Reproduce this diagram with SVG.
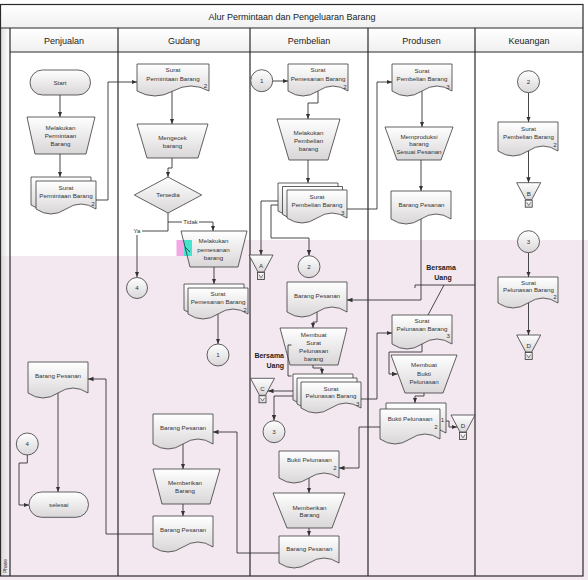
<svg xmlns="http://www.w3.org/2000/svg" width="588" height="580" viewBox="0 0 588 580">
<defs>
<linearGradient id="g" x1="0" y1="0" x2="0" y2="1"><stop offset="0" stop-color="#ffffff"/><stop offset="1" stop-color="#d9d6d8"/></linearGradient>
<linearGradient id="hd" x1="0" y1="0" x2="0" y2="1"><stop offset="0" stop-color="#ffffff"/><stop offset="1" stop-color="#f0f0f0"/></linearGradient>
<linearGradient id="ph" x1="0" y1="0" x2="1" y2="0"><stop offset="0" stop-color="#d0d0d0" stop-opacity="0.8"/><stop offset="1" stop-color="#f6f6f6" stop-opacity="0.3"/></linearGradient>
<marker id="ar" viewBox="0 0 10 10" refX="10" refY="5" markerWidth="5.5" markerHeight="5.5" markerUnits="userSpaceOnUse" orient="auto"><path d="M0,1 L10,5 L0,9 Z" fill="#333"/></marker>
<style>
.ln{fill:none;stroke:#2a2a2a;stroke-width:1.2}
.sh{fill:url(#g);stroke:#3a3a3a;stroke-width:0.8}
.cn{fill:none;stroke:#333;stroke-width:0.9;marker-end:url(#ar)}
.pl{fill:none;stroke:#333;stroke-width:0.9}
text{font-family:"Liberation Sans",Arial,sans-serif;fill:#333;text-anchor:middle}
.t{font-size:6.2px}
.h{font-size:9px;fill:#222}
.b{font-size:7px;font-weight:bold;fill:#222}
.ck{fill:none;stroke:#333;stroke-width:0.6}
</style>
</defs>
<rect x="0" y="0" width="588" height="580" fill="#ffffff"/>
<g id="background">
<rect x="0" y="256" width="588" height="324" fill="#f4e8f0"/>
<rect x="177" y="240" width="411" height="16" fill="#f4e8f0"/>
<rect x="0.5" y="4.5" width="582.5" height="23.5" fill="url(#hd)"/>
<rect x="10" y="28" width="573" height="24" fill="url(#hd)"/>
<rect x="0.5" y="28" width="9.5" height="548" fill="url(#ph)"/>
</g>
<g id="lanes">
<rect class="ln" x="0.5" y="4.5" width="582.5" height="571.5"/>
<path class="ln" d="M0.5,28 H583 M10,28 V576 M10,52 H583 M118,28 V576 M250,28 V576 M368,28 V576 M475,28 V576"/>
<text class="h" x="292" y="19.7">Alur Permintaan dan Pengeluaran Barang</text>
<text class="h" x="64" y="43.7">Penjualan</text>
<text class="h" x="184" y="43.7">Gudang</text>
<text class="h" x="309" y="43.7">Pembelian</text>
<text class="h" x="421.5" y="43.7">Produsen</text>
<text class="h" x="529" y="43.7">Keuangan</text>
<text x="7" y="566" font-size="5px" fill="#444" transform="rotate(-90 7 566)">Phase</text>
</g>
<g id="connectors">
<path class="cn" d="M60,95 V117"/>
<path class="cn" d="M60,154 V177"/>
<path class="cn" d="M96,200 H108 V82 H137"/>
<path class="cn" d="M172,91 V124"/>
<path class="cn" d="M172,158 V168 H168 V177"/>
<path class="cn" d="M168,213 V222 H213 V231"/>
<path class="cn" d="M168,222 V231 H137 V277"/>
<path class="cn" d="M214,267 V284"/>
<path class="cn" d="M218,314 V344"/>
<path class="cn" d="M272.7,81 H288"/>
<path class="cn" d="M318,91 V103 H308 V119"/>
<path class="cn" d="M308,160 V183"/>
<path class="cn" d="M347,209 H377 V82 H392"/>
<path class="cn" d="M278,201 H261 V255"/>
<path class="cn" d="M282.5,205 H271 V238 H309 V255.5"/>
<path class="cn" d="M422,91 V127"/>
<path class="cn" d="M421,160 V191"/>
<path class="cn" d="M421,219 V300 H347"/>
<path class="cn" d="M528.5,92.7 V122"/>
<path class="cn" d="M528.5,151 V182.7"/>
<path class="cn" d="M528.5,252.7 V277"/>
<path class="cn" d="M528.5,303 V335"/>
<path class="cn" d="M317,312 V322 H313 V328"/>
<path class="cn" d="M313,365 V368 H322 V374"/>
<path class="cn" d="M361,399 H377 V333 H392"/>
<path class="cn" d="M293,391 H268"/>
<path class="cn" d="M293,396 H274 V420.5"/>
<path class="cn" d="M422,344 V352 H389 V374 H397.5"/>
<path class="cn" d="M424,393 V396 H415 V403"/>
<path class="cn" d="M446,421 H449 V427 H457"/>
<path class="cn" d="M380,427 H359 V468 H339"/>
<path class="cn" d="M309,478 V493"/>
<path class="cn" d="M309,528 V536"/>
<path class="cn" d="M279,553 H237 V432 H213"/>
<path class="cn" d="M183,444 V469"/>
<path class="cn" d="M183,504 V516"/>
<path class="cn" d="M153,534 H106 V379 H88"/>
<path class="cn" d="M58,393 V492"/>
<path class="cn" d="M27.3,455 V463 H19 V505 H29"/>
<rect x="182" y="218" width="17" height="8" fill="#ffffff"/>
<text x="190.5" y="224" font-size="6px">Tidak</text>
<rect x="132" y="227" width="10" height="8" fill="#ffffff"/>
<text x="137" y="233.2" font-size="6px">Ya</text>
</g>
<g id="n-start"><rect class="sh" x="30" y="70" width="60.5" height="25" rx="12.5"/><text class="t" x="60" y="84.7">Start</text></g>
<g id="n-melakukan-permintaan"><path class="sh" d="M27,117 H95 L86,154 H35 Z"/><text class="t" x="60.5" y="130">Melakukan</text><text class="t" x="60.5" y="138">Permintaan</text><text class="t" x="60.5" y="146.2">Barang</text></g>
<g id="n-surat-permintaan-penjualan"><path class="sh" d="M31,177 H91 V205 Q76,195 61,205 T31,205 Z"/><path class="sh" d="M36,181 H96 V209 Q81,199 66,209 T36,209 Z"/><text class="t" x="66" y="189.5">Surat</text><text class="t" x="66" y="198.2">Permintaan Barang</text><text class="t" x="93" y="206.2">2</text></g>
<g id="n-barang-pesanan-penjualan"><path class="sh" d="M28,362 H88 V393 Q73,383 58,393 T28,393 Z"/><text class="t" x="58" y="378.2">Barang Pesanan</text></g>
<g id="n-c4-penjualan"><circle class="sh" cx="27.3" cy="444" r="11"/><text class="t" x="27.3" y="446.2">4</text></g>
<g id="n-selesai"><rect class="sh" x="29" y="492" width="59.5" height="25.3" rx="12.6"/><text class="t" x="58.7" y="507.2">selesai</text></g>
<g id="n-surat-permintaan-gudang"><path class="sh" d="M137,64 H209 V91 Q191,81 173,91 T137,91 Z"/><text class="t" x="173" y="72.2">Surat</text><text class="t" x="173" y="80.9">Permintaan Barang</text><text class="t" x="205.5" y="88.2">2</text></g>
<g id="n-mengecek"><path class="sh" d="M137,124 H208 L198,158 H147 Z"/><text class="t" x="172.5" y="139.9">Mengecek</text><text class="t" x="172.5" y="148.2">barang</text></g>
<g id="n-tersedia"><path class="sh" d="M168,177 L201.7,195 L168,213 L134.3,195 Z"/><text class="t" x="168" y="197.2">Tersedia</text></g>
<g id="n-c4-gudang"><circle class="sh" cx="137" cy="288" r="10.5"/><text class="t" x="137" y="290.2">4</text></g>
<g id="n-melakukan-pemesanan"><path class="sh" d="M181,231 H247 L238,267 H190 Z"/><text class="t" x="213.5" y="242.9">Melakukan</text><text class="t" x="213.5" y="251.5">pemesanan</text><text class="t" x="213.5" y="259.5">barang</text></g>
<g id="n-surat-pemesanan-gudang"><path class="sh" d="M184,284 H244 V310 Q229,300 214,310 T184,310 Z"/><path class="sh" d="M188,288 H248 V314 Q233,304 218,314 T188,314 Z"/><text class="t" x="218" y="296.2">Surat</text><text class="t" x="218" y="303.9">Pemesanan Barang</text><text class="t" x="245" y="312.2">2</text></g>
<g id="n-c1-gudang"><circle class="sh" cx="218" cy="355" r="11"/><text class="t" x="218" y="357.2">1</text></g>
<g id="n-barang-pesanan-gudang1"><path class="sh" d="M153,414 H213 V444 Q198,434 183,444 T153,444 Z"/><text class="t" x="183" y="429.9">Barang Pesanan</text></g>
<g id="n-memberikan-gudang"><path class="sh" d="M153,469 H220 L210,504 H162 Z"/><text class="t" x="185" y="484.9">Memberikan</text><text class="t" x="185" y="493.2">Barang</text></g>
<g id="n-barang-pesanan-gudang2"><path class="sh" d="M153,516 H213 V547 Q198,537 183,547 T153,547 Z"/><text class="t" x="183" y="532.2">Barang Pesanan</text></g>
<g id="n-c1-pembelian"><circle class="sh" cx="261.7" cy="80.7" r="11"/><text class="t" x="261.7" y="82.9">1</text></g>
<g id="n-surat-pemesanan-pembelian"><path class="sh" d="M288,64 H348 V91 Q333,81 318,91 T288,91 Z"/><text class="t" x="318" y="72.2">Surat</text><text class="t" x="318" y="81.2">Pemesanan Barang</text><text class="t" x="345" y="89.2">2</text></g>
<g id="n-melakukan-pembelian"><path class="sh" d="M277,119 H340 L328,160 H289 Z"/><text class="t" x="308.5" y="135.2">Melakukan</text><text class="t" x="308.5" y="142.9">Pembelian</text><text class="t" x="308.5" y="150.5">barang</text></g>
<g id="n-surat-pembelian-pembelian"><path class="sh" d="M278,183 H338 V211 Q323,201 308,211 T278,211 Z"/><path class="sh" d="M282.5,186.5 H342.5 V214.5 Q327.5,204.5 312.5,214.5 T282.5,214.5 Z"/><path class="sh" d="M287,190 H347 V218 Q332,208 317,218 T287,218 Z"/><text class="t" x="317" y="198.9">Surat</text><text class="t" x="317" y="207.2">Pembelian Barang</text><text class="t" x="342.7" y="214.5">3</text></g>
<g id="n-offpage-a"><path class="sh" d="M249,255 H273 L264,272 H258 Z"/><rect class="sh" x="257.5" y="272.5" width="7" height="7"/><path class="ck" d="M258.8,274.5 L261,277.8 L263.2,274.5"/><text class="t" x="261" y="267.5">A</text></g>
<g id="n-c2-pembelian"><circle class="sh" cx="309" cy="266.7" r="11"/><text class="t" x="309" y="268.9">2</text></g>
<g id="n-barang-pesanan-pembelian1"><path class="sh" d="M287,282 H347 V312 Q332,302 317,312 T287,312 Z"/><text class="t" x="317" y="297.9">Barang Pesanan</text></g>
<g id="n-membuat-surat"><path class="sh" d="M280,328 H347 L338,365 H290 Z"/><text class="t" x="313.7" y="336.5">Membuat</text><text class="t" x="313.7" y="344.5">Surat</text><text class="t" x="313.7" y="352.9">Pelunasan</text><text class="t" x="313.7" y="361.2">barang</text></g>
<g id="n-note-left"><path class="pl" d="M291.5,345 H288 V376 H291.5"/><text class="b" x="284" y="357.5" text-anchor="end" style="text-anchor:end">Bersama</text><text class="b" x="284" y="367.5" style="text-anchor:end">Uang</text></g>
<g id="n-surat-pelunasan-pembelian"><path class="sh" d="M293,374 H353 V400 Q338,390 323,400 T293,400 Z"/><path class="sh" d="M297,378 H357 V404 Q342,394 327,404 T297,404 Z"/><path class="sh" d="M301,382 H361 V408 Q346,398 331,408 T301,408 Z"/><text class="t" x="331" y="390.5">Surat</text><text class="t" x="331" y="398.2">Pelunasan Barang</text><text class="t" x="357.7" y="405.5">3</text></g>
<g id="n-offpage-c"><path class="sh" d="M250.5,378.3 H274.5 L265.5,395.3 H259.5 Z"/><rect class="sh" x="259" y="395.8" width="7" height="7"/><path class="ck" d="M260.3,397.8 L262.5,401.1 L264.7,397.8"/><text class="t" x="262.5" y="391">C</text></g>
<g id="n-c3-pembelian"><circle class="sh" cx="274" cy="431.7" r="11"/><text class="t" x="274" y="433.9">3</text></g>
<g id="n-bukti-pembelian"><path class="sh" d="M279,451 H339 V478 Q324,468 309,478 T279,478 Z"/><text class="t" x="309.3" y="462.2">Bukti Pelunasan</text><text class="t" x="335" y="469.9">2</text></g>
<g id="n-memberikan-pembelian"><path class="sh" d="M273,493 H345 L332,528 H287 Z"/><text class="t" x="309.5" y="509.5">Memberikan</text><text class="t" x="309.5" y="517.2">Barang</text></g>
<g id="n-barang-pesanan-pembelian2"><path class="sh" d="M279,536 H339 V563 Q324,553 309,563 T279,563 Z"/><text class="t" x="309.3" y="550.5">Barang Pesanan</text></g>
<g id="n-surat-pembelian-produsen"><path class="sh" d="M392,64 H452 V91 Q437,81 422,91 T392,91 Z"/><text class="t" x="422" y="72.9">Surat</text><text class="t" x="422" y="81.2">Pembelian Barang</text><text class="t" x="448" y="89.2">3</text></g>
<g id="n-memproduksi"><path class="sh" d="M385,127 H453 L441,160 H397 Z"/><text class="t" x="419" y="138.9">Memproduksi</text><text class="t" x="419" y="146.2">barang</text><text class="t" x="419" y="153.9">Sesuai Pesanan</text></g>
<g id="n-barang-pesanan-produsen"><path class="sh" d="M391,191 H451 V219 Q436,209 421,219 T391,219 Z"/><text class="t" x="421.5" y="206.5">Barang Pesanan</text></g>
<g id="n-note-right"><path class="pl" d="M415,288 V285 H475 M444,285 L428,315"/><text class="b" x="441" y="270">Bersama</text><text class="b" x="443" y="280">Uang</text></g>
<g id="n-surat-pelunasan-produsen"><path class="sh" d="M392,315 H452 V344 Q437,334 422,344 T392,344 Z"/><text class="t" x="422" y="322.9">Surat</text><text class="t" x="422" y="330.5">Pelunasan Barang</text><text class="t" x="448.3" y="338.2">3</text></g>
<g id="n-membuat-bukti"><path class="sh" d="M391,355 H457 L443,393 H405 Z"/><text class="t" x="424" y="367.2">Membuat</text><text class="t" x="424" y="375.5">Bukti</text><text class="t" x="424" y="383.9">Pelunasan</text></g>
<g id="n-bukti-produsen"><path class="sh" d="M386,403 H446 V433 Q431,423 416,433 T386,433 Z"/><text class="t" x="442.5" y="422.2">1</text><path class="sh" d="M380,409 H440 V439 Q425,429 410,439 T380,439 Z"/><text class="t" x="410" y="420.5">Bukti Pelunasan</text><text class="t" x="436" y="428.9">2</text></g>
<g id="n-offpage-d1"><path class="sh" d="M451,415 H475 L466,432 H460 Z"/><rect class="sh" x="459.5" y="432.5" width="7" height="7"/><path class="ck" d="M460.8,434.5 L463,437.8 L465.2,434.5"/><text class="t" x="463" y="427.5">D</text></g>
<g id="n-c2-keuangan"><circle class="sh" cx="528.5" cy="81.7" r="11"/><text class="t" x="528.5" y="83.9">2</text></g>
<g id="n-surat-pembelian-keuangan"><path class="sh" d="M498,122 H558 V151 Q543,141 528,151 T498,151 Z"/><text class="t" x="528.5" y="130.5">Surat</text><text class="t" x="528.5" y="138.9">Pembelian Barang</text><text class="t" x="555" y="147.2">2</text></g>
<g id="n-offpage-b"><path class="sh" d="M516.7,182.7 H540.7 L531.7,199.7 H525.7 Z"/><rect class="sh" x="525.2" y="200.2" width="7" height="7"/><path class="ck" d="M526.5,202.2 L528.7,205.5 L530.9,202.2"/><text class="t" x="528.7" y="195.5">B</text></g>
<g id="n-c3-keuangan"><circle class="sh" cx="528.5" cy="241.7" r="11"/><text class="t" x="528.5" y="243.9">3</text></g>
<g id="n-surat-pelunasan-keuangan"><path class="sh" d="M498,277 H558 V303 Q543,293 528,303 T498,303 Z"/><text class="t" x="528.5" y="284.9">Surat</text><text class="t" x="528.5" y="292.2">Pelunasan Barang</text><text class="t" x="555" y="299.2">2</text></g>
<g id="n-offpage-d2"><path class="sh" d="M516.7,335 H540.7 L531.7,352 H525.7 Z"/><rect class="sh" x="525.2" y="352.5" width="7" height="7"/><path class="ck" d="M526.5,354.5 L528.7,357.8 L530.9,354.5"/><text class="t" x="528.7" y="347.8">D</text></g>
<g id="selection-marks">
<rect x="176.5" y="240" width="7.5" height="16" fill="#f2a8e4"/>
<rect x="184" y="240" width="8" height="16" fill="#44e4cf"/>
<path d="M183.3,240 L187.3,256 M185,247 L190,252" stroke="#333" stroke-width="0.8" fill="none"/>
</g>
</svg>
